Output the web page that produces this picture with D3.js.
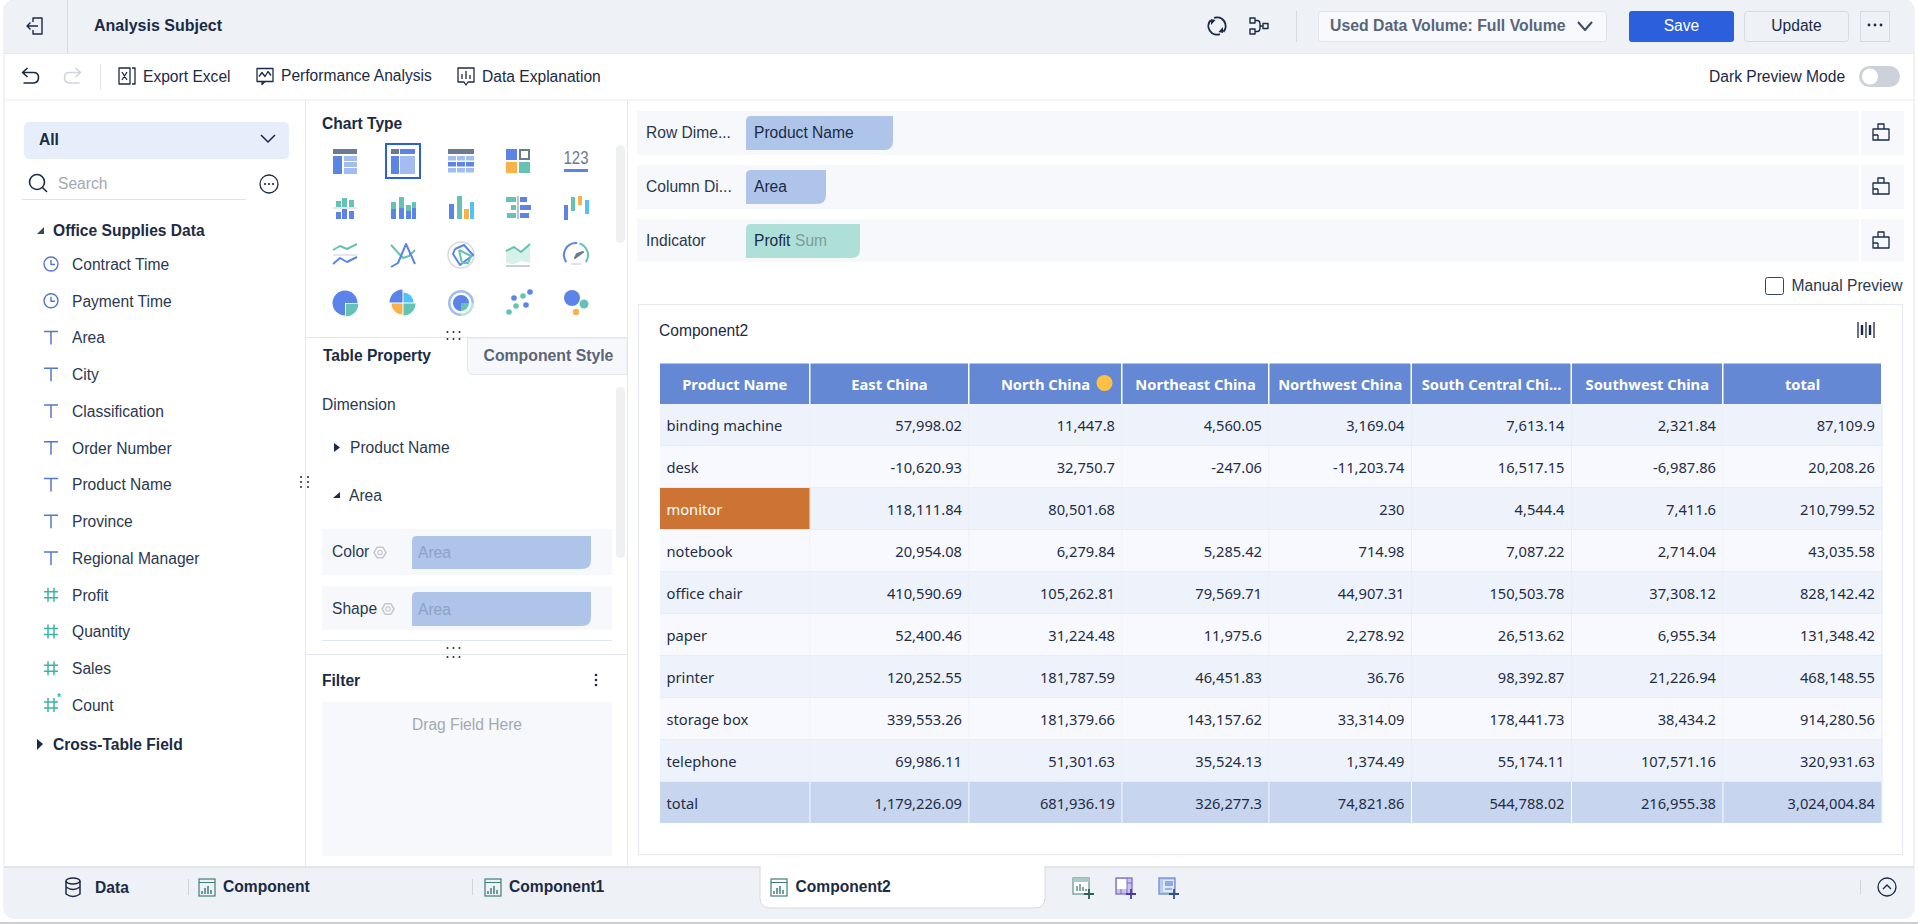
<!DOCTYPE html>
<html>
<head>
<meta charset="utf-8">
<script src="https://cdn.jsdelivr.net/npm/d3@7"></script>
<style>
html, body { margin: 0; padding: 0; background: #fff; overflow: hidden; }
svg { display: block; }
text { font-family: "Liberation Sans", Arial, sans-serif; }
.cell { font-family: "Noto Sans", sans-serif; }
</style>
</head>
<body>
<div id="vis"></div>
<script>
// table data
var columns = ['Product Name', 'East China', 'North China', 'Northeast China', 'Northwest China', 'South Central Chi...', 'Southwest China', 'total'];
var products = ['binding machine', 'desk', 'monitor', 'notebook', 'office chair', 'paper', 'printer', 'storage box', 'telephone', 'total'];
var eastChina = [57998.02, -10620.93, 118111.84, 20954.08, 410590.69, 52400.46, 120252.55, 339553.26, 69986.11, 1179226.09];
var northChina = [11447.8, 32750.7, 80501.68, 6279.84, 105262.81, 31224.48, 181787.59, 181379.66, 51301.63, 681936.19];
var northeastChina = [4560.05, -247.06, null, 5285.42, 79569.71, 11975.6, 46451.83, 143157.62, 35524.13, 326277.3];
var northwestChina = [3169.04, -11203.74, 230, 714.98, 44907.31, 2278.92, 36.76, 33314.09, 1374.49, 74821.86];
var southCentralChina = [7613.14, 16517.15, 4544.4, 7087.22, 150503.78, 26513.62, 98392.87, 178441.73, 55174.11, 544788.02];
var southwestChina = [2321.84, -6987.86, 7411.6, 2714.04, 37308.12, 6955.34, 21226.94, 38434.2, 107571.16, 216955.38];
var rowTotal = [87109.9, 20208.26, 210799.52, 43035.58, 828142.42, 131348.42, 468148.55, 914280.56, 320931.63, 3024004.84];
var valueSeries = [eastChina, northChina, northeastChina, northwestChina, southCentralChina, southwestChina, rowTotal];

// ui labels
var fieldNames = ['Contract Time', 'Payment Time', 'Area', 'City', 'Classification', 'Order Number', 'Product Name', 'Province', 'Regional Manager', 'Profit', 'Quantity', 'Sales', 'Count'];
var fieldKinds = ['time', 'time', 'text', 'text', 'text', 'text', 'text', 'text', 'text', 'num', 'num', 'num', 'calc'];

var svg = d3.select('#vis').append('svg').attr('width', 1918).attr('height', 924);

var ink = '#1b2a45', blue = '#5b83e8', pale = '#a3bdf0', slate = '#6b7a90', teal = '#65c2b5', orange = '#f9b24a', sky = '#4fc3f7';
var ui = 15.6;

function rect(p, x, y, w, h, fill, rx, stroke) {
	return p.append('rect').attr('x', x).attr('y', y).attr('width', w).attr('height', h)
		.attr('fill', fill).attr('rx', rx || 0).attr('stroke', stroke || 'none');
}
function hline(p, x1, y1, x2, y2, col, w) {
	return p.append('line').attr('x1', x1).attr('y1', y1).attr('x2', x2).attr('y2', y2)
		.attr('stroke', col).attr('stroke-width', w || 1);
}
function label(p, x, y, str, size, col, weight, anchor) {
	return p.append('text').attr('x', x).attr('y', y).attr('dy', '.38em').text(str)
		.attr('font-size', size).attr('fill', col).attr('font-weight', weight || 400)
		.attr('text-anchor', anchor || 'start');
}
function path(p, d, col, w, fill) {
	return p.append('path').attr('d', d).attr('stroke', col).attr('stroke-width', w || 1.5)
		.attr('fill', fill || 'none').attr('stroke-linejoin', 'round');
}
function at(x, y) { return svg.append('g').attr('transform', 'translate(' + x + ',' + y + ')'); }
// field pill: small top-left corner, big bottom-right corner
function pill(x0, x1, y0, y1, fill) {
	path(svg, 'M' + (x0 + 5) + ',' + y0 + 'H' + x1 + 'V' + (y1 - 9) + 'Q' + x1 + ',' + y1 + ' ' + (x1 - 9) + ',' + y1 +
		'H' + x0 + 'V' + (y0 + 5) + 'Q' + x0 + ',' + y0 + ' ' + (x0 + 5) + ',' + y0 + 'Z', 'none', 0, fill);
}
var lineGen = d3.line();
var arcGen = d3.arc();
var PI = Math.PI;

// window frame
rect(svg, 4, 0, 1910, 918, '#ffffff', 10, '#e3e6ec');
path(svg, 'M4,54V10Q4,0 14,0H1904Q1914,0 1914,10V54Z', 'none', 0, '#eef1f6');
path(svg, 'M4,867V908Q4,918 14,918H1904Q1914,918 1914,908V867Z', 'none', 0, '#eef1f6');
hline(svg, 4, 53.5, 1914, 53.5, '#e3e7ee');
hline(svg, 4, 100, 1914, 100, '#e6e9f0');
hline(svg, 4, 867, 1914, 867, '#ccd2dc');
hline(svg, 0, 923, 1918, 923, '#b9bfc7', 1.5);

// header
hline(svg, 67.5, 0, 67.5, 53, '#d5d9e0');
var back = at(36, 26);
path(back, 'M-3,-4V-8H6V8H-3V4M2,0H-9M-5.5,-3.5L-9,0L-5.5,3.5', ink, 1.4);
label(svg, 94, 25, 'Analysis Subject', 16, ink, 700);

var sync = at(1217, 26);
path(sync, arcGen({innerRadius: 7.6, outerRadius: 9.6, startAngle: -0.35, endAngle: 2.3}), 'none', 0, ink);
path(sync, arcGen({innerRadius: 7.6, outerRadius: 9.6, startAngle: 2.8, endAngle: 5.45}), 'none', 0, ink);
path(sync, 'M-6,-7L-6,-1L-1.5,-6ZM6,7L6,1L1.5,6Z', 'none', 0, ink);
var flow = at(1258, 26);
path(flow, 'M-8,-8H-3V-3H-8ZM-8,3H-3V8H-8ZM5,-2.5H10V2.5H5ZM-3,-5.5H-1Q2,-5.5 2,-2V2Q2,5.5 -1,5.5H-3M2,0H5', ink, 1.4);
hline(svg, 1296.5, 11, 1296.5, 42, '#d5d9e0');

rect(svg, 1318.5, 11.5, 288, 30, '#f7f9fd', 3, '#dfe3ea');
label(svg, 1330, 25, 'Used Data Volume: Full Volume', 15.8, '#5a6578', 700);
path(svg, 'M1578,22L1585,30L1592,22', '#3d4a60', 2);
rect(svg, 1629, 11, 105, 31, '#2b5fdb', 3);
label(svg, 1681.5, 25, 'Save', ui, '#ffffff', 400, 'middle');
rect(svg, 1744.5, 11.5, 104, 30, '#eef1f6', 3, '#d5d9e0');
label(svg, 1796.5, 25, 'Update', ui, ink, 400, 'middle');
rect(svg, 1860.5, 11.5, 29, 30, '#eef1f6', 0, '#d5d9e0');
[-6, 0, 6].forEach(function(d) { svg.append('circle').attr('cx', 1875 + d).attr('cy', 25).attr('r', 1.4).attr('fill', ink); });

// toolbar
var undo = at(30.5, 76);
path(undo, 'M-3,-8L-8,-3.5L-3,1M-8,-3.5H3Q8,-3.5 8,1.5T3,7H-7', ink, 1.6);
var redo = at(72.5, 76);
path(redo, 'M3,-8L8,-3.5L3,1M8,-3.5H-3Q-8,-3.5 -8,1.5T-3,7H7', '#d0d5dc', 1.6);
hline(svg, 100.5, 64, 100.5, 90, '#e3e6ec');
var xls = at(127, 76);
path(xls, 'M-8,-8H3V8H-8ZM5,-8H8V8H5M-5,-4L0,4M0,-4L-5,4', ink, 1.3);
label(svg, 143, 76, 'Export Excel', ui, ink);
var perf = at(265, 75.5);
path(perf, 'M-8,-7H8V6H-8ZM-6,1L-3,-3L0,1L3,-4L6,0M-3,6V9L0,6', ink, 1.3);
label(svg, 281, 75, 'Performance Analysis', ui, ink);
var expl = at(466, 76);
path(expl, 'M-8,-8H8V6H2L0,9L-2,6H-8ZM-4,-2V3M0,-5V3M4,-1V3', ink, 1.3);
label(svg, 482, 76, 'Data Explanation', ui, ink);
label(svg, 1709, 76, 'Dark Preview Mode', ui, ink);
rect(svg, 1859, 66, 41, 21, '#cdd1d9', 10.5);
svg.append('circle').attr('cx', 1870).attr('cy', 76.5).attr('r', 8).attr('fill', '#ffffff');

// left field list
hline(svg, 305.5, 100, 305.5, 867, '#e6e9f0');
hline(svg, 627.5, 100, 627.5, 867, '#e6e9f0');
rect(svg, 24, 122, 265, 37, '#e6eefc', 5);
label(svg, 39, 139, 'All', ui, ink, 700);
path(svg, 'M261,135L268,142L275,135', ink, 1.5);
var search = at(38, 183);
search.append('circle').attr('r', 7.5).attr('cx', -1).attr('cy', -1).attr('fill', 'none').attr('stroke', ink).attr('stroke-width', 1.6);
hline(search, 4.5, 4.5, 9, 9, ink, 1.6);
label(svg, 58, 183, 'Search', ui, '#a3a9b3');
hline(svg, 22, 199.5, 246, 199.5, '#dfe2e8');
var more = at(269, 184);
more.append('circle').attr('r', 9).attr('fill', 'none').attr('stroke', ink).attr('stroke-width', 1.3);
[-4, 0, 4].forEach(function(d) { more.append('circle').attr('cx', d).attr('r', 1.1).attr('fill', ink); });

path(svg, 'M37,234L44,234L44,227Z', 'none', 0, '#3b4658');
label(svg, 53, 230, 'Office Supplies Data', ui, ink, 700);
path(svg, 'M37,739L43,744L37,750Z', 'none', 0, ink);
label(svg, 53, 744, 'Cross-Table Field', ui, ink, 700);

var fieldY = d3.scalePoint().domain(fieldNames).range([264, 705]);
fieldNames.forEach(function(name, i) {
	var y = fieldY(name), g = at(51, y), kind = fieldKinds[i];
	if (kind == 'time') {
		g.append('circle').attr('r', 7).attr('fill', 'none').attr('stroke', '#5577c9').attr('stroke-width', 1.4);
		path(g, 'M0,-4V0.5H4', '#5577c9', 1.4);
	} else if (kind == 'text') {
		path(g, 'M-7,-6H7M0,-6V7', '#5577c9', 1.5);
	} else {
		path(g, 'M-3,-7V7M3,-7V7M-7,-3H7M-7,3H7', '#3cb4a4', 1.5);
		if (kind == 'calc') label(g, 6, -8, '*', 10, '#3cb4a4', 700);
	}
	label(svg, 72, y, name, ui, '#2a3850');
});

// drag handles
[[301, 477], [301, 482], [301, 487], [308, 477], [308, 482], [308, 487]].forEach(function(d) {
	svg.append('circle').attr('cx', d[0]).attr('cy', d[1]).attr('r', 1).attr('fill', ink);
});
[332, 339, 648, 657].forEach(function(y) {
	[-6, 0, 6].forEach(function(d) { svg.append('circle').attr('cx', 453.5 + d).attr('cy', y).attr('r', 1).attr('fill', ink); });
});

// chart type grid
label(svg, 322, 123, 'Chart Type', ui, ink, 700);
rect(svg, 386, 144, 34, 34, '#ffffff', 0, '#2b5fdb').attr('stroke-width', 2);
rect(svg, 616, 145, 9, 98, '#eef0f4', 4.5);

function bars(g, list) { list.forEach(function(b) { rect(g, b[0], b[1], b[2], b[3], b[4]); }); }
var gridX = [345, 403, 461, 518, 576], gridY = [162, 208, 255, 303];
var chartIcons = [
	function(g) { bars(g, [[-12, -13, 24, 5, slate], [-12, -6, 9, 18, blue], [-1, -6, 13, 5, pale], [-1, 0, 13, 5, pale], [-1, 6, 13, 6, pale]]); },
	function(g) { bars(g, [[-12, -13, 8, 5, slate], [-3, -13, 15, 5, blue], [-12, -6, 8, 18, blue], [-3, -6, 15, 18, pale]]); },
	function(g) {
		bars(g, [[-13, -13, 26, 5, slate]]);
		[-6, 0, 6].forEach(function(y, r) {
			[-13, -4, 5].forEach(function(x) { rect(g, x, y, 8, 4.5, r == 1 ? blue : pale); });
		});
	},
	function(g) {
		bars(g, [[-12, -13, 11, 11, blue], [-12, 0, 11, 11, orange], [1, 0, 11, 11, teal]]);
		rect(g, 2, -12, 9, 9, '#fff', 0, slate).attr('stroke-width', 2);
	},
	function(g) {
		label(g, 0, -5, '123', 19, slate, 400, 'middle').attr('textLength', 25).attr('lengthAdjust', 'spacingAndGlyphs');
		bars(g, [[-12, 7, 24, 3, blue]]);
	},

	function(g) {
		bars(g, [[-9, -7, 5, 6, teal], [-3, -10, 5, 9, teal], [4, -8, 5, 7, teal], [-9, 4, 5, 7, blue], [-3, 1, 5, 10, blue], [4, 3, 5, 8, blue]]);
		hline(g, -12, 0, 12, 0, '#c8ced8');
	},
	function(g) { bars(g, [[-12, 0, 5, 11, blue], [-12, -6, 5, 7, teal], [-4, -1, 5, 12, blue], [-4, -11, 5, 11, teal], [3, 3, 5, 8, blue], [3, -3, 5, 6, teal], [9, 0, 4, 11, blue], [9, -6, 4, 6, teal]]); },
	function(g) { bars(g, [[-12, -4, 5, 15, blue], [-4, -12, 5, 23, teal], [3, 1, 5, 10, orange], [9, -6, 4, 17, sky]]); },
	function(g) {
		bars(g, [[-12, -11, 10, 5, teal], [-7, -3, 5, 5, teal], [-11, 5, 9, 5, teal], [2, -11, 7, 5, blue], [2, -3, 11, 5, blue], [2, 5, 9, 5, blue]]);
		hline(g, 0, -12, 0, 11, '#a8b0bd', 1.5);
	},
	function(g) { bars(g, [[-12, -3, 4, 15, blue], [-5, -11, 4, 14, teal], [2, -12, 4, 9, orange], [9, -8, 4, 14, sky]]); },

	function(g) {
		path(g, lineGen([[-12, -5], [-5, -9], [2, -6], [12, -11]]), teal, 2);
		hline(g, -12, 0, 12, 0, '#c8ced8');
		path(g, lineGen([[-12, 9], [-5, 3], [2, 7], [12, 2]]), blue, 2);
	},
	function(g) {
		path(g, lineGen([[-12, -10], [0, 3], [6, 1], [12, -5]]), teal, 2);
		path(g, lineGen([[-12, 12], [-5, 8], [3, -11], [12, 9]]), blue, 2);
	},
	function(g) {
		g.append('circle').attr('r', 13).attr('fill', 'none').attr('stroke', '#d5d9e3').attr('stroke-width', 1.5);
		path(g, lineGen([[-6, -6], [3, -10], [12, 0], [-1, 10], [-8, -1], [-6, -6]]), blue, 2);
		path(g, lineGen([[-2, -5], [10, 1], [7, 8], [1, 8], [-2, -5]]), teal, 2);
	},
	function(g) {
		path(g, lineGen([[-12, -4], [-4, -8], [3, -3], [12, -11], [12, 8], [3, 6], [-4, 9], [-12, 8]]) + 'Z', 'none', 0, '#d6f0ea');
		path(g, lineGen([[-12, -4], [-4, -8], [3, -3], [12, -11]]), teal, 2);
		hline(g, -12, 11, 12, 11, '#b8bfcb', 1.5);
	},
	function(g) {
		path(g, arcGen({innerRadius: 11, outerRadius: 13, startAngle: -2.2, endAngle: 0.1}), 'none', 0, blue);
		path(g, arcGen({innerRadius: 11, outerRadius: 13, startAngle: 0.3, endAngle: 2.2}), 'none', 0, teal);
		path(g, 'M-1,3L7,-3L1,-1Z', slate, 2, slate);
		hline(g, -5, 9, 5, 9, '#dfe3ea', 2);
	},

	function(g) {
		path(g, arcGen({innerRadius: 0, outerRadius: 12.5, startAngle: PI, endAngle: 2.5 * PI}), 'none', 0, blue);
		path(g, arcGen({innerRadius: 0, outerRadius: 12.5, startAngle: PI / 2, endAngle: PI}), 'none', 0, teal).attr('transform', 'translate(0.8,0.8)');
	},
	function(g) {
		path(g, arcGen({innerRadius: 0, outerRadius: 13, startAngle: -PI / 2, endAngle: 0}), 'none', 0, blue).attr('transform', 'translate(-0.5,-0.5)');
		path(g, arcGen({innerRadius: 0, outerRadius: 10, startAngle: 0, endAngle: PI / 2}), 'none', 0, sky).attr('transform', 'translate(0.5,-0.5)');
		path(g, arcGen({innerRadius: 0, outerRadius: 12, startAngle: PI / 2, endAngle: PI}), 'none', 0, teal).attr('transform', 'translate(0.5,0.5)');
		path(g, arcGen({innerRadius: 0, outerRadius: 11, startAngle: PI, endAngle: 1.5 * PI}), 'none', 0, orange).attr('transform', 'translate(-0.5,0.5)');
	},
	function(g) {
		path(g, arcGen({innerRadius: 10.5, outerRadius: 13, startAngle: PI, endAngle: 2.5 * PI}), 'none', 0, pale);
		path(g, arcGen({innerRadius: 10.5, outerRadius: 13, startAngle: PI / 2, endAngle: PI}), 'none', 0, '#b9e4dd');
		path(g, arcGen({innerRadius: 0, outerRadius: 8, startAngle: PI, endAngle: 2.5 * PI}), 'none', 0, blue);
		path(g, arcGen({innerRadius: 0, outerRadius: 8, startAngle: PI / 2, endAngle: PI}), 'none', 0, teal);
	},
	function(g) {
		[[12, -11, blue], [5, -7, teal], [-4, -5, blue], [8, 2, blue], [-2, 3, teal], [-9, 9, teal]].forEach(function(d) {
			g.append('circle').attr('cx', d[0]).attr('cy', d[1]).attr('r', 2.8).attr('fill', d[2]);
		});
	},
	function(g) {
		[[-4, -5, 8, blue], [8, 1, 4.5, teal], [0, 9, 3.2, orange]].forEach(function(d) {
			g.append('circle').attr('cx', d[0]).attr('cy', d[1]).attr('r', d[2]).attr('fill', d[3]);
		});
	}
];
chartIcons.forEach(function(fn, i) { fn(at(gridX[i % 5], gridY[Math.floor(i / 5)])); });

// property tabs
hline(svg, 305, 337.5, 627, 337.5, '#e3e6ec');
path(svg, 'M467.5,338V368Q467.5,374.5 474,374.5H627V338Z', '#e3e6ec', 1, '#f7f8fc');
hline(svg, 468, 337.5, 627, 337.5, '#e3e6ec');
label(svg, 323, 355, 'Table Property', ui, ink, 700);
label(svg, 483.5, 355, 'Component Style', 15.8, '#5a6578', 700);
label(svg, 322, 404, 'Dimension', ui, '#2a3850');
rect(svg, 616, 387, 9, 171, '#eef0f4', 4.5);
path(svg, 'M334,443L340,447.5L334,452Z', 'none', 0, ink);
label(svg, 350, 447, 'Product Name', ui, '#2a3850');
path(svg, 'M333,498L340,498L340,492Z', 'none', 0, ink);
label(svg, 349, 495, 'Area', ui, '#2a3850');

[['Color', 529, 46, 380, 536, 569], ['Shape', 586, 44, 388, 592, 626]].forEach(function(d) {
	var mid = d[4] + (d[5] - d[4]) / 2;
	rect(svg, 322, d[1], 290, d[2], '#f7f8fc');
	label(svg, 332, mid - 1, d[0], ui, '#2a3850');
	var gear = at(d[3], mid);
	var hex = d3.range(6).map(function(k) { return [6 * Math.cos(k * PI / 3), 6 * Math.sin(k * PI / 3)]; });
	path(gear, lineGen(hex) + 'Z', '#c4c8d0', 1.5);
	gear.append('circle').attr('r', 2.2).attr('fill', 'none').attr('stroke', '#c4c8d0').attr('stroke-width', 1.2);
	pill(412, 591, d[4], d[5], '#aec4e8');
	label(svg, 418, mid, 'Area', ui, '#8ea3c4');
});
hline(svg, 322, 640.5, 612, 640.5, '#e3e6ec');
hline(svg, 305, 654.5, 627, 654.5, '#e3e6ec');
label(svg, 322, 680, 'Filter', ui, ink, 700);
[-5, 0, 5].forEach(function(d) { svg.append('circle').attr('cx', 596).attr('cy', 680 + d).attr('r', 1.3).attr('fill', ink); });
rect(svg, 322, 702, 290, 154, '#f7f8fc');
label(svg, 467, 724, 'Drag Field Here', ui, '#a3a9b3', 400, 'middle');

// shelf rows
var shelves = [
	{name: 'Row Dime...', y: 111, h: 44, pill: 'Product Name', end: 893, fill: '#aec4e8'},
	{name: 'Column Di...', y: 165, h: 44, pill: 'Area', end: 826, fill: '#aec4e8'},
	{name: 'Indicator', y: 219, h: 43, pill: 'Profit', end: 860, fill: '#aee0d8'}
];
shelves.forEach(function(s) {
	var mid = s.y + 22;
	rect(svg, 637, s.y, 1222, s.h, '#f7f8fc');
	rect(svg, 1861, s.y, 43, s.h, '#f7f8fc');
	label(svg, 646, mid - 0.5, s.name, ui, '#2a3850');
	pill(746, s.end, mid - 17, mid + 17, s.fill);
	label(svg, 754, mid - 0.5, s.pill, ui, ink);
	if (s.pill == 'Profit') label(svg, 795, mid - 0.5, 'Sum', ui, '#7f9c98');
	var box = at(1881, mid - 1);
	path(box, 'M-8,-3H8V8H-8ZM-3,-3V-8H3V-3M-3,8V3M-8,3H-3', ink, 1.3);
});

rect(svg, 1765.5, 277.5, 18, 17, '#ffffff', 2, '#3b4658');
label(svg, 1791.5, 285, 'Manual Preview', ui, '#2a3850');

// component card
rect(svg, 638.5, 304.5, 1264, 550, '#ffffff', 0, '#e6e9f0');
label(svg, 659, 330, 'Component2', ui, ink);
var bar = at(1866, 330);
path(bar, 'M-8,-8V8M8,-8V8M0,-8V8', ink, 1.3);
path(bar, 'M-4,-5V5M4,-5V5', ink, 2.4);

// table
var edges = [660, 810.5, 969.5, 1122.5, 1269.5, 1412, 1572, 1723.5, 1882.5];
var colX = d3.scaleOrdinal().domain(columns).range(edges.slice(0, -1));
var colW = d3.scaleOrdinal().domain(columns).range(d3.pairs(edges).map(function(p) { return p[1] - p[0]; }));
var rowY = d3.scaleBand().domain(products).range([404, 824]);
var fmt = function(v) { return v == null ? '' : d3.format(',')(v).replace('\u2212', '-'); };

var table = svg.append('g');
table.selectAll('.head').data(columns).join('rect').attr('class', 'head')
	.attr('x', function(d) { return colX(d); }).attr('y', 363.5)
	.attr('width', function(d) { return colW(d) - 1.5; }).attr('height', 40.5)
	.attr('fill', '#6488d3');
table.selectAll('.headText').data(columns).join('text').attr('class', 'headText cell')
	.attr('x', function(d) { return colX(d) + (colW(d) - 1) / 2; })
	.attr('y', 384.5).attr('dy', '.35em').attr('text-anchor', 'middle')
	.attr('font-size', 14.7).attr('font-weight', 700).attr('fill', '#ffffff')
	.text(function(d) { return d; });
svg.append('circle').attr('cx', 1104.5).attr('cy', 383).attr('r', 8).attr('fill', '#fcc144');

var rows = table.selectAll('.row').data(products).join('g').attr('class', 'row')
	.attr('transform', function(d) { return 'translate(0,' + rowY(d) + ')'; });

rows.each(function(name, r) {
	var g = d3.select(this);
	var isTotal = name == 'total';
	var bg = isTotal ? '#c7d5ef' : (r % 2 == 0 ? '#eef3fb' : '#f7f9fe');
	var line = isTotal ? '#ffffff' : '#e8ecf5';
	var cy = rowY.bandwidth() / 2;
	columns.forEach(function(c, i) {
		var x = colX(c), w = colW(c);
		var fill = name == 'monitor' && i == 0 ? '#cd7435' : bg;
		rect(g, x, 0, w, rowY.bandwidth(), fill);
		hline(g, x + w - 0.5, 0, x + w - 0.5, rowY.bandwidth(), line);
		hline(g, x, rowY.bandwidth() - 0.5, x + w, rowY.bandwidth() - 0.5, line);
		if (i == 0) {
			label(g, x + 6.5, cy, name, 14.7, name == 'monitor' ? '#ffffff' : '#1f2d45').attr('class', 'cell');
		} else {
			label(g, x + w - 7.5, cy, fmt(valueSeries[i - 1][r]), 14.7, '#1f2d45', 400, 'end').attr('class', 'cell');
		}
	});
});

// bottom tab bar
var cyl = at(73, 887);
cyl.append('ellipse').attr('cy', -6).attr('rx', 7).attr('ry', 3).attr('fill', 'none').attr('stroke', ink).attr('stroke-width', 1.5);
path(cyl, 'M-7,-6V7Q0,12 7,7V-6M-7,0Q0,5 7,0', ink, 1.5);
label(svg, 95, 887, 'Data', ui, ink, 700);
path(svg, 'M760,867V898Q760,908 770,908H1035Q1045,908 1045,898V867', '#d5d9e0', 1, '#ffffff');
hline(svg, 761, 867, 1044, 867, '#ffffff', 2);
hline(svg, 188.5, 879, 188.5, 895, '#d0d5dd');
hline(svg, 472.5, 879, 472.5, 895, '#d0d5dd');

function tabIcon(x) {
	var g = at(x, 887);
	rect(g, -8, -8, 16, 17, 'none', 0, '#3f7f78').attr('stroke-width', 1.2);
	hline(g, -8, -4.5, 8, -4.5, '#3f7f78');
	[[-5, 3], [-2, 6], [1, 8], [4, 4]].forEach(function(d) { hline(g, d[0], 7, d[0], 7 - d[1], '#3f7f78', 1.5); });
}
[[207, 'Component', 223], [493, 'Component1', 509], [779, 'Component2', 795.5]].forEach(function(d) {
	tabIcon(d[0]);
	label(svg, d[2], 886.5, d[1], ui, ink, 700);
});

var add1 = at(1081, 886);
rect(add1, -8, -8, 16, 16, '#ffffff', 0, '#6f9a94').attr('stroke-width', 1.3);
rect(add1, -8, -8, 16, 4, '#a9cbc5');
path(add1, 'M-4,5V0M-1,5V-2M2,5V1M5,5V3', '#5f8a84', 1.5);
path(add1, 'M8,3V13M3,8H13', '#2f5f5a', 1.8);
var add2 = at(1124, 886);
rect(add2, -8, -8, 16, 16, '#c9c3ec', 0, '#7e6cc9').attr('stroke-width', 1.3);
rect(add2, -7, -7, 10, 10, '#ffffff');
path(add2, 'M3,-8V8M-3,3V8M3,-3H8', '#7e6cc9', 1);
path(add2, 'M7,3V13M2,8H12', '#4a3aa8', 1.8);
var add3 = at(1167, 886);
rect(add3, -8, -8, 16, 16, '#b9cbef', 0, '#6f8fce').attr('stroke-width', 1.3);
rect(add3, -4, -6, 11, 12, '#dfe8f8');
rect(add3, -2, -5, 8, 5, '#8fabe6');
path(add3, 'M-2,3H5', '#6f8fce', 1.2);
path(add3, 'M7,3V13M2,8H12', '#2f4f8a', 1.8);
hline(svg, 1860.5, 880, 1860.5, 894, '#d0d5dd');
var up = at(1887, 887);
up.append('circle').attr('r', 9).attr('fill', 'none').attr('stroke', ink).attr('stroke-width', 1.3);
path(up, 'M-4,2L0,-2L4,2', ink, 1.4);
</script>
</body>
</html>
